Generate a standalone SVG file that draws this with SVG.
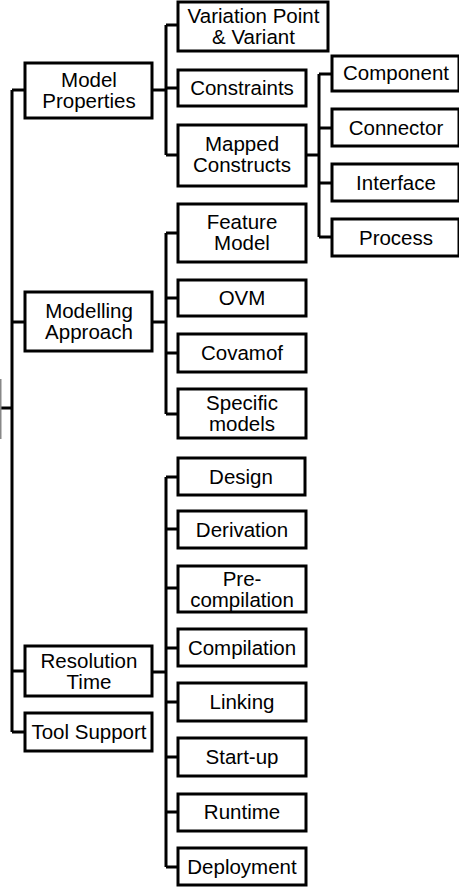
<svg xmlns="http://www.w3.org/2000/svg" width="459" height="887" viewBox="0 0 459 887">
<style>
.box{fill:#fff;stroke:#000;stroke-width:3}
.lbl{font-family:"Liberation Sans",Arial,sans-serif;font-size:20.5px;text-anchor:middle;fill:#000}
.con{fill:none;stroke:#000;stroke-width:3}
</style>
<rect width="459" height="887" fill="#fff"/>
<g id="connectors">
<path class="con" d="M12,90 V732 M12,90 H25 M12,322 H25 M12,671 H25 M12,732 H25"/>
<path class="con" d="M0,408 H12" />
<path class="con" d="M152,90 H166 M166,25 V155 M166,25 H178 M166,88 H178 M166,155 H178"/>
<path class="con" d="M306,155 H319 M319,74 V237 M319,74 H332 M319,128 H332 M319,183 H332 M319,237 H332"/>
<path class="con" d="M152,322 H166 M166,233 V414 M166,233 H178 M166,298 H178 M166,353 H178 M166,414 H178"/>
<path class="con" d="M152,672 H166 M166,477 V867 M166,477 H178 M166,529 H178 M166,588 H178 M166,648 H178 M166,702 H178 M166,757 H178 M166,812 H178 M166,867 H178"/>
</g>
<g id="root"><rect x="-1" y="379" width="2.5" height="60" fill="#888"/></g>
<g id="model-properties"><rect class="box" x="25" y="63" width="127" height="55"/><text class="lbl" x="89" y="87">Model</text><text class="lbl" x="89" y="108">Properties</text></g>
<g id="modelling-approach"><rect class="box" x="25" y="292" width="127" height="59"/><text class="lbl" x="89" y="318">Modelling</text><text class="lbl" x="89" y="339">Approach</text></g>
<g id="resolution-time"><rect class="box" x="25" y="646" width="127" height="50"/><text class="lbl" x="89" y="668">Resolution</text><text class="lbl" x="89" y="689">Time</text></g>
<g id="tool-support"><rect class="box" x="25" y="713" width="127" height="38"/><text class="lbl" x="89" y="739">Tool Support</text></g>
<g id="variation-point"><rect class="box" x="178" y="2" width="150" height="49"/><text class="lbl" x="253.5" y="23">Variation Point</text><text class="lbl" x="253.5" y="44">&amp; Variant</text></g>
<g id="constraints"><rect class="box" x="178" y="70" width="128" height="36"/><text class="lbl" x="242" y="95">Constraints</text></g>
<g id="mapped-constructs"><rect class="box" x="178" y="125" width="128" height="61"/><text class="lbl" x="242" y="151">Mapped</text><text class="lbl" x="242" y="172">Constructs</text></g>
<g id="component"><rect class="box" x="332" y="56" width="127" height="35"/><text class="lbl" x="396" y="80">Component</text></g>
<g id="connector"><rect class="box" x="332" y="109" width="127" height="37"/><text class="lbl" x="396" y="135">Connector</text></g>
<g id="interface"><rect class="box" x="332" y="164" width="127" height="37"/><text class="lbl" x="396" y="190">Interface</text></g>
<g id="process"><rect class="box" x="332" y="219" width="127" height="37"/><text class="lbl" x="396" y="245">Process</text></g>
<g id="feature-model"><rect class="box" x="178" y="204" width="128" height="58"/><text class="lbl" x="242" y="229">Feature</text><text class="lbl" x="242" y="250">Model</text></g>
<g id="ovm"><rect class="box" x="178" y="280" width="128" height="36"/><text class="lbl" x="242" y="305">OVM</text></g>
<g id="covamof"><rect class="box" x="178" y="334" width="128" height="38"/><text class="lbl" x="242" y="360">Covamof</text></g>
<g id="specific-models"><rect class="box" x="178" y="389" width="128" height="49"/><text class="lbl" x="242" y="410">Specific</text><text class="lbl" x="242" y="431">models</text></g>
<g id="design"><rect class="box" x="178" y="458" width="127" height="37"/><text class="lbl" x="241" y="484">Design</text></g>
<g id="derivation"><rect class="box" x="178" y="511" width="128" height="37"/><text class="lbl" x="242" y="537">Derivation</text></g>
<g id="pre-compilation"><rect class="box" x="178" y="566" width="128" height="46"/><text class="lbl" x="242" y="586">Pre-</text><text class="lbl" x="242" y="607">compilation</text></g>
<g id="compilation"><rect class="box" x="178" y="629" width="128" height="37"/><text class="lbl" x="242" y="655">Compilation</text></g>
<g id="linking"><rect class="box" x="178" y="683" width="128" height="38"/><text class="lbl" x="242" y="709">Linking</text></g>
<g id="start-up"><rect class="box" x="178" y="738" width="128" height="38"/><text class="lbl" x="242" y="764">Start-up</text></g>
<g id="runtime"><rect class="box" x="178" y="794" width="128" height="37"/><text class="lbl" x="242" y="819">Runtime</text></g>
<g id="deployment"><rect class="box" x="178" y="848" width="128" height="37"/><text class="lbl" x="242" y="874">Deployment</text></g>
</svg>
